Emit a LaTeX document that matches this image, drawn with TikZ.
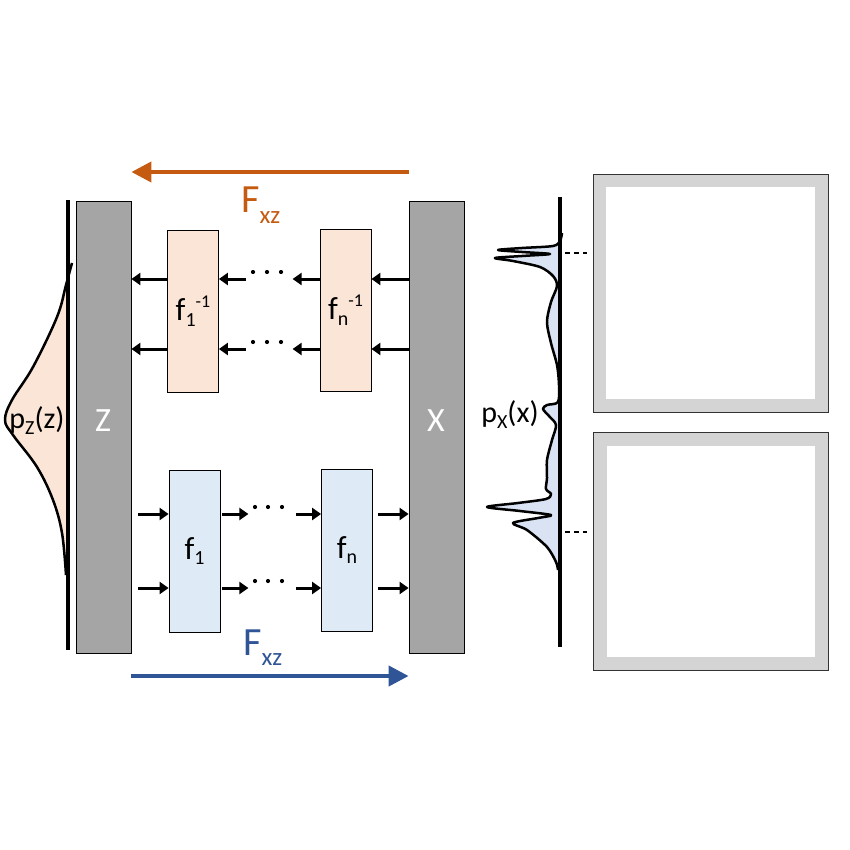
\documentclass[tikz,border=0pt]{standalone}
\usepackage{fontspec}
\setmainfont{Carlito}
\usetikzlibrary{arrows.meta,calc}
\definecolor{orng}{HTML}{C55A11}
\definecolor{blu}{HTML}{2F5597}
\definecolor{lorng}{HTML}{FBE5D6}
\definecolor{lblu}{HTML}{DEEBF7}
\definecolor{pxf}{HTML}{DAE3F3}
\definecolor{bargray}{HTML}{A5A5A5}
\definecolor{framegray}{HTML}{D4D4D4}
\newcommand{\flo}[1]{\raisebox{-0.17em}{\fontsize{20}{20}\selectfont #1}}
\newcommand{\fhi}[1]{\raisebox{0.42em}{\fontsize{18}{18}\selectfont #1}}
\newcommand{\Flo}[1]{\raisebox{-0.25em}{\fontsize{25}{25}\selectfont #1}}
\newcommand{\plo}[1]{\raisebox{-0.2em}{\fontsize{20}{20}\selectfont #1}}
\begin{document}
\begin{tikzpicture}[x=1pt,y=-1pt,
  bar/.style={draw=black,line width=0.8pt,fill=bargray,minimum width=55pt,minimum height=452pt,inner sep=0pt},
  fbox/.style={draw=black,line width=0.8pt,minimum width=51pt,minimum height=162pt,inner sep=0pt,font=\fontsize{32}{38}\selectfont},
  arr/.style={line width=3pt,-{Triangle[length=9pt,width=12pt]}},
  bigarr/.style={line width=4pt,-{Triangle[length=20pt,width=20pt]}},
  axisline/.style={line width=4pt},
  curve/.style={line width=2.5pt,line join=round},
  frame/.style={draw=black!80,line width=0.8pt,fill=framegray,minimum width=235pt,minimum height=238pt,inner sep=0pt},
  dotm/.style={fill=black},
  dsh/.style={line width=1.5pt,dash pattern=on 5pt off 4pt,shorten >=6pt},
  lbl/.style={font=\fontsize{30}{36}\selectfont,inner sep=0pt},
  barlbl/.style={font=\fontsize{34}{40}\selectfont,text=white,inner sep=0pt}
]
\useasboundingbox (0,0) rectangle (850,850);

% distributions: p_Z
\fill[lorng] plot[smooth,tension=0.6] coordinates {(72,263) (66,285) (57,317) (33,367) (12,400) (5,420) (13,435) (37,467) (53,500) (62,533) (66,575)} -- (68,575) -- (68,263) -- cycle;
\draw[curve] plot[smooth,tension=0.6] coordinates {(72,263) (66,285) (57,317) (33,367) (12,400) (5,420) (13,435) (37,467) (53,500) (62,533) (66,575)};
\draw[axisline] (68,200) -- (68,650);

% p_X
\def\pxpts{(562,233) (560,241) (553,246) (522,248) (498,250) (522,252) (550,254) (522,256) (495,258) (513,261) (540,267) (553,276) (557,286) (551,302) (547,322) (551,343) (557,365) (559,385) (558,402) (547,405) (543,409) (549,416) (556,425) (552,440) (547,460) (547,478) (546,489) (551,494) (546,499) (518,503) (487,507) (520,511) (551,515) (538,518) (513,523) (527,530) (547,547) (556,562) (558,570)}
\fill[pxf] plot[smooth,tension=0.5] coordinates {\pxpts} -- (560,570) -- (560,233) -- cycle;
\draw[curve] plot[smooth,tension=0.5] coordinates {\pxpts};
\draw[axisline] (560,197) -- (560,647);

% bars
\node[bar] (zbar) at (103.5,427) {};
\node[bar] (xbar) at (436.5,427) {};
\node[barlbl] at (103,421) {Z};
\node[barlbl] at (436,421) {X};

% flow boxes
\node[fbox,fill=lorng] (f1inv) at (193,311) {f\flo{1}\fhi{-1}};
\node[fbox,fill=lorng] (fninv) at (345.5,310) {f\flo{n}\fhi{-1}};
\node[fbox,fill=lblu] (f1) at (194.5,551) {f\flo{1}};
\node[fbox,fill=lblu] (fn) at (347,550) {f\flo{n}};

% row coordinates
\coordinate (r1) at (0,279);
\coordinate (r2) at (0,349);
\coordinate (r3) at (0,514);
\coordinate (r4) at (0,588);

% inverse direction arrows
\foreach \r in {r1,r2}{
  \draw[arr] (xbar.west |- \r) -- (fninv.east |- \r);
  \draw[arr] (fninv.west |- \r) -- ($(fninv.west |- \r)+(-27,0)$);
  \draw[arr] ($(f1inv.east |- \r)+(27,0)$) -- (f1inv.east |- \r);
  \draw[arr] (f1inv.west |- \r) -- (zbar.east |- \r);
  \foreach \x in {253,267,281} \fill[dotm] ($(\x,0 |- \r)+(0,-7)$) circle (2.1pt);
}
% forward direction arrows
\foreach \r in {r3,r4}{
  \draw[arr,shorten <=7pt] (zbar.east |- \r) -- (f1.west |- \r);
  \draw[arr,shorten <=2pt] (f1.east |- \r) -- ($(f1.east |- \r)+(28,0)$);
  \draw[arr] ($(fn.west |- \r)+(-25,0)$) -- (fn.west |- \r);
  \draw[arr,shorten <=5pt] (fn.east |- \r) -- (xbar.west |- \r);
  \foreach \x in {255,268,282} \fill[dotm] ($(\x,0 |- \r)+(0,-7)$) circle (2.1pt);
}

% big arrows
\coordinate (oa) at (0,172);
\coordinate (ba) at (0,676);
\draw[bigarr,orng] (xbar.west |- oa) -- (zbar.east |- oa);
\draw[bigarr,blu] (zbar.east |- ba) -- (xbar.west |- ba);
\node[anchor=base west,inner sep=0pt,text=orng,font=\fontsize{40}{44}\selectfont] (fo) at (241,213) {F\Flo{xz}};
\node[anchor=base west,inner sep=0pt,text=blu,font=\fontsize{40}{44}\selectfont] (fb) at (243,655) {F\Flo{xz}};

% labels
\node[lbl] (pz) at (37,421) {p\plo{Z}(z)};
\node[lbl] (px) at (510,415) {p\plo{X}(x)};

% image frames
\node[frame] (img1) at (710.5,293) {};
\fill[white] (606,187) rectangle (815,399);
\node[frame] (img2) at (710.5,551.5) {};
\fill[white] (607,446) rectangle (815,657);

% dashed links
\coordinate (d1) at (565,253);
\coordinate (d2) at (565,532);
\draw[dsh] (d1) -- (img1.west |- d1);
\draw[dsh] (d2) -- (img2.west |- d2);
\end{tikzpicture}
\end{document}
